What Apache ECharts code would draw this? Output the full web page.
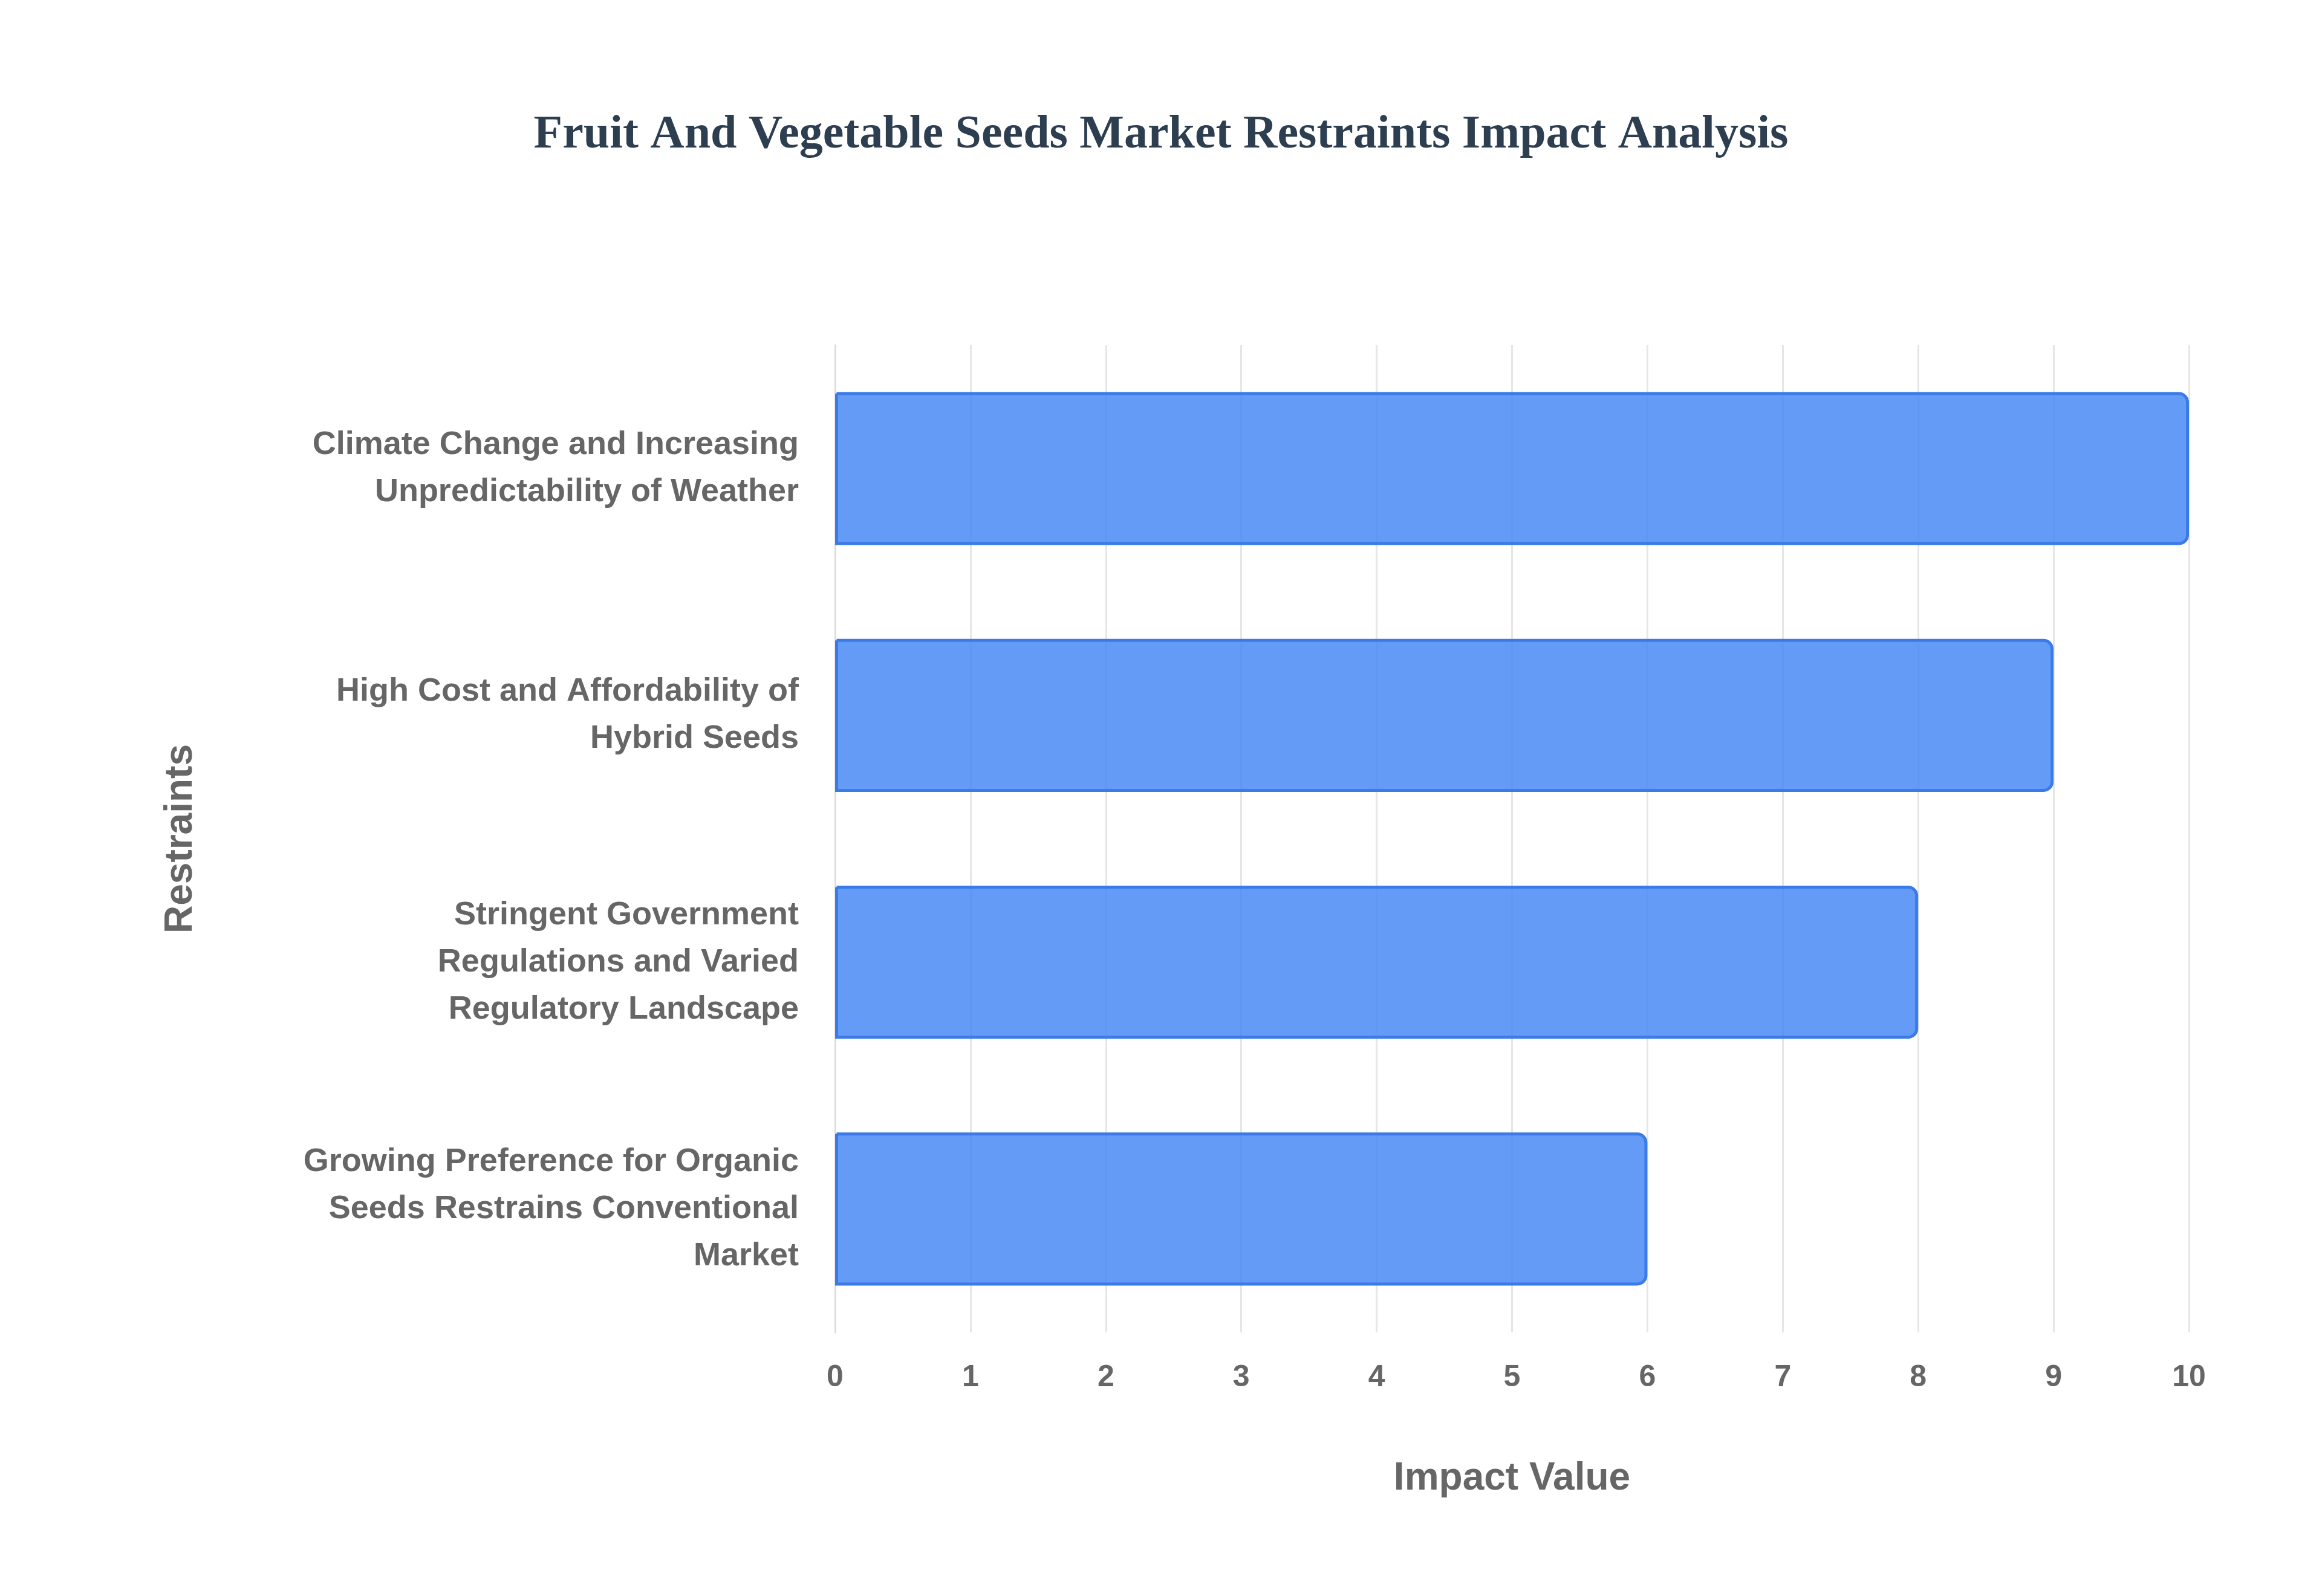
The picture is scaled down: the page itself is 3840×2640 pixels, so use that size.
<!DOCTYPE html>
<html><head><meta charset="utf-8">
<script src="https://cdn.jsdelivr.net/npm/echarts@6/dist/echarts.min.js"></script>
<style>html,body{margin:0;padding:0;background:#fff}#c{width:3840px;height:2640px}</style>
</head><body><div id="c"></div>
<script>
const categories = [
  "Climate Change and Increasing\nUnpredictability of Weather",
  "High Cost and Affordability of\nHybrid Seeds",
  "Stringent Government\nRegulations and Varied\nRegulatory Landscape",
  "Growing Preference for Organic\nSeeds Restrains Conventional\nMarket"
];
const values = [10, 9, 8, 6];
const chart = echarts.init(document.getElementById('c'));
chart.setOption({
  backgroundColor: '#fff',
  title: {text: 'Fruit And Vegetable Seeds Market Restraints Impact Analysis', left: 'center', top: 180,
    textStyle: {fontFamily: 'Liberation Serif', fontWeight: 'bold', fontSize: 78, color: '#2c3e50'}},
  grid: {left: 1381, right: 220, top: 571, bottom: 436},
  xAxis: {type: 'value', min: 0, max: 10, interval: 1,
    name: 'Impact Value', nameLocation: 'middle', nameGap: 210,
    nameTextStyle: {fontFamily: 'Liberation Sans', fontWeight: 'bold', fontSize: 64, color: '#666'},
    axisLabel: {fontFamily: 'Liberation Sans', fontWeight: 'bold', fontSize: 50, color: '#666', margin: 50},
    axisLine: {show: false}, axisTick: {show: false},
    splitLine: {lineStyle: {color: '#e6e6e6', width: 3}}},
  yAxis: {type: 'category', data: categories, inverse: true,
    name: 'Restraints', nameLocation: 'middle', nameGap: 1050, nameRotate: 90,
    nameTextStyle: {fontFamily: 'Liberation Sans', fontWeight: 'bold', fontSize: 64, color: '#666'},
    axisLabel: {fontFamily: 'Liberation Sans', fontWeight: 'bold', fontSize: 54, color: '#666', margin: 60, lineHeight: 78, align: 'right'},
    axisLine: {lineStyle: {color: '#ddd', width: 3}}, axisTick: {show: false}},
  series: [{type: 'bar', data: values, barWidth: '62%',
    itemStyle: {color: 'rgba(66,133,244,0.82)', borderColor: '#3b7be8', borderWidth: 5, borderRadius: [0, 14, 14, 0]}}]
});
</script></body></html>
